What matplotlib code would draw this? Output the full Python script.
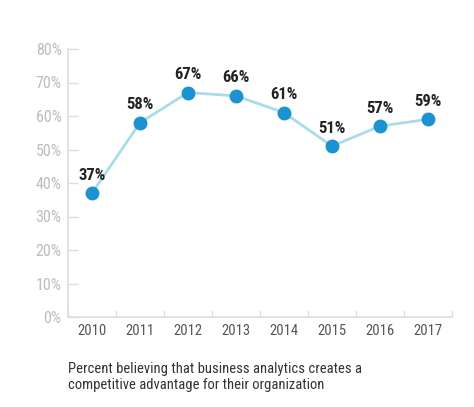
import numpy as np
import matplotlib
matplotlib.use('Agg')
import matplotlib.pyplot as plt

matplotlib.rcParams['font.family'] = ['Roboto Condensed', 'DejaVu Sans']

years = ['2010', '2011', '2012', '2013', '2014', '2015', '2016', '2017']
percent = [37, 58, 67, 66, 61, 51, 57, 59]
yticks = [0, 10, 20, 30, 40, 50, 60, 70, 80]

fig = plt.figure(figsize=(4.74, 4.07), dpi=100)
ax = fig.add_axes([68 / 474, 90 / 407, 384 / 474, 268 / 407])

x = np.arange(len(years))
ax.plot(x, percent, color='#a9dbe9', lw=2, zorder=2)
ax.plot(x, percent, 'o', ms=9, color='#1b92d1', zorder=3)
for xi, v in zip(x, percent):
    ax.annotate('%d%%' % v, (xi, v), xytext=(0, 7.5), textcoords='offset points',
                ha='center', va='bottom', fontsize=12, fontweight='bold', color='#222222')

ax.set_xlim(-0.5, len(years) - 0.5)
ax.set_ylim(0, 80)
ax.set_yticks(yticks)
ax.set_yticklabels(['%d%%' % t for t in yticks], color='#bcbcbc', fontsize=11.5)
ax.set_xticks(x)
ax.set_xticklabels(years, color='#555555', fontsize=10.5)
ax.set_xticks(np.arange(len(years) + 1) - 0.5, minor=True)

ax.tick_params(axis='y', direction='in', length=7, width=1, color='#dddddd', pad=4.5)
ax.tick_params(axis='x', which='major', length=0, pad=5)
ax.tick_params(axis='x', which='minor', direction='in', length=5, width=1, color='#dddddd')
for s in ['top', 'right']:
    ax.spines[s].set_visible(False)
for s in ['left', 'bottom']:
    ax.spines[s].set_color('#dddddd')
    ax.spines[s].set_linewidth(1.2)

fig.text(68 / 474, 1 - 362 / 407, 'Percent believing that business analytics creates a\n'
         'competitive advantage for their organization',
         ha='left', va='top', fontsize=10.5, color='#333333', linespacing=1.2)

fig.savefig('out.png', dpi=100)
